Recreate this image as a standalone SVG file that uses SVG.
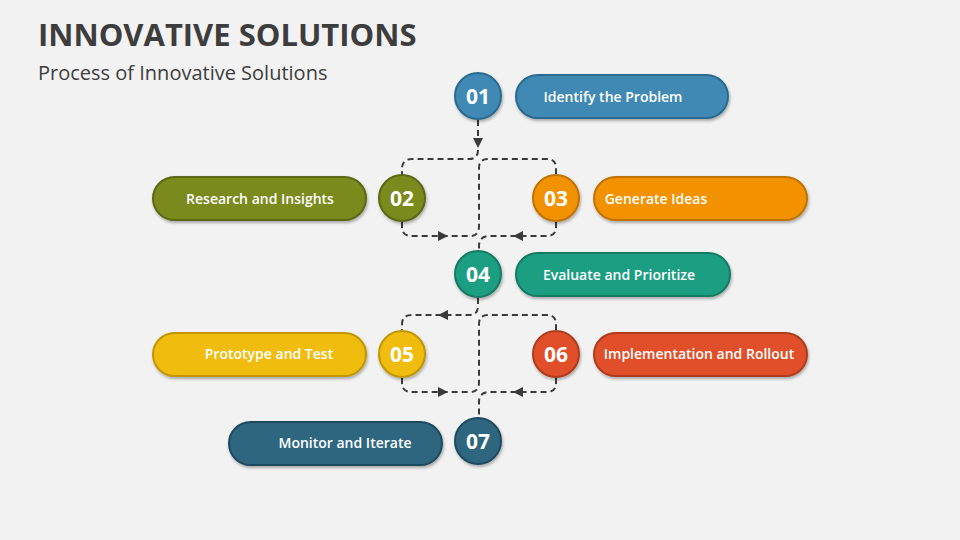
<svg xmlns="http://www.w3.org/2000/svg" width="960" height="540" viewBox="0 0 960 540">
<defs>
<filter id="sh" x="-20%" y="-20%" width="140%" height="160%"><feDropShadow dx="1" dy="2" stdDeviation="1.5" flood-color="#000" flood-opacity="0.3"/></filter>
<marker id="ar" viewBox="0 0 10 10" refX="5" refY="5" markerWidth="10" markerHeight="10" markerUnits="userSpaceOnUse" orient="auto"><path d="M0,0L10,5L0,10z" fill="#3a3a3a"/></marker>
</defs>
<style>
.t{font-family:"Open Sans","Liberation Sans",sans-serif}
.n{font-family:"Open Sans","Liberation Sans",sans-serif;font-weight:bold;font-size:21px;fill:#fff;text-anchor:middle}
.p{font-family:"Open Sans","Liberation Sans",sans-serif;font-weight:600;font-size:14px;fill:#fff;text-anchor:middle}
.c{fill:none;stroke:#3a3a3a;stroke-width:2;stroke-dasharray:6,4}
.nd{filter:url(#sh);stroke-width:2}
</style>
<rect width="960" height="540" fill="#f2f2f2"/>
<text x="38" y="46" class="t" font-size="31" font-weight="bold" fill="#3d3d3d">INNOVATIVE SOLUTIONS</text>
<text x="38" y="80" class="t" font-size="20" fill="#3d3d3d">Process of Innovative Solutions</text>
<g id="connectors">
<path class="c" d="M478,120V150Q478,159 469,159H412Q402,159 402,169V175"/>
<path class="c" d="M402,222V227Q402,236 412,236H470Q479,236 479,226V168Q479,159 488,159H547Q556,159 556,168V175"/>
<path class="c" d="M556,222V227Q556,236 547,236H490Q479,236 479,246V250"/>
<path class="c" d="M478,298V306Q478,315 469,315H412Q402,315 402,324V331"/>
<path class="c" d="M402,378V383Q402,392 412,392H470Q479,392 479,382V324Q479,315 488,315H547Q556,315 556,324V331"/>
<path class="c" d="M556,378V383Q556,392 547,392H490Q479,392 479,402V417"/>
<path d="M473,138L483,138L478,148z" fill="#3a3a3a"/>
<path d="M438,231L448,236L438,241z" fill="#3a3a3a"/>
<path d="M523,231L513,236L523,241z" fill="#3a3a3a"/>
<path d="M448,310L438,315L448,320z" fill="#3a3a3a"/>
<path d="M438,387L448,392L438,397z" fill="#3a3a3a"/>
<path d="M523,387L513,392L523,397z" fill="#3a3a3a"/>
</g>
<g id="n1"><circle class="nd" cx="478" cy="96" r="23" fill="#3f89b5" stroke="#2c6a8e"/><text class="n" x="478" y="104">01</text>
<rect class="nd" x="516" y="75" width="212" height="43" rx="21.5" fill="#3f89b5" stroke="#2c6a8e"/><text class="p" x="613" y="102">Identify the Problem</text></g>
<g id="n2"><circle class="nd" cx="402" cy="198" r="23" fill="#7a8a1e" stroke="#5b6814"/><text class="n" x="402" y="206">02</text>
<rect class="nd" x="153" y="177" width="213" height="43" rx="21.5" fill="#7a8a1e" stroke="#5b6814"/><text class="p" x="260" y="204">Research and Insights</text></g>
<g id="n3"><circle class="nd" cx="556" cy="198" r="23" fill="#f39200" stroke="#c07300"/><text class="n" x="556" y="206">03</text>
<rect class="nd" x="594" y="177" width="213" height="43" rx="21.5" fill="#f39200" stroke="#c07300"/><text class="p" x="656" y="204">Generate Ideas</text></g>
<g id="n4"><circle class="nd" cx="478" cy="274" r="23" fill="#1f9e82" stroke="#167a63"/><text class="n" x="478" y="282">04</text>
<rect class="nd" x="516" y="253" width="214" height="43" rx="21.5" fill="#1f9e82" stroke="#167a63"/><text class="p" x="619" y="280">Evaluate and Prioritize</text></g>
<g id="n5"><circle class="nd" cx="402" cy="354" r="23" fill="#f0bc0c" stroke="#c29606"/><text class="n" x="402" y="362">05</text>
<rect class="nd" x="153" y="333" width="213" height="43" rx="21.5" fill="#f0bc0c" stroke="#c29606"/><text class="p" x="269" y="359">Prototype and Test</text></g>
<g id="n6"><circle class="nd" cx="556" cy="354" r="23" fill="#e0502a" stroke="#b03a1b"/><text class="n" x="556" y="362">06</text>
<rect class="nd" x="594" y="333" width="213" height="43" rx="21.5" fill="#e0502a" stroke="#b03a1b"/><text class="p" x="699" y="359">Implementation and Rollout</text></g>
<g id="n7"><circle class="nd" cx="478" cy="441" r="23" fill="#2e6680" stroke="#1f4c61"/><text class="n" x="478" y="449">07</text>
<rect class="nd" x="229" y="422" width="213" height="43" rx="21.5" fill="#2e6680" stroke="#1f4c61"/><text class="p" x="345" y="448">Monitor and Iterate</text></g>
</svg>
